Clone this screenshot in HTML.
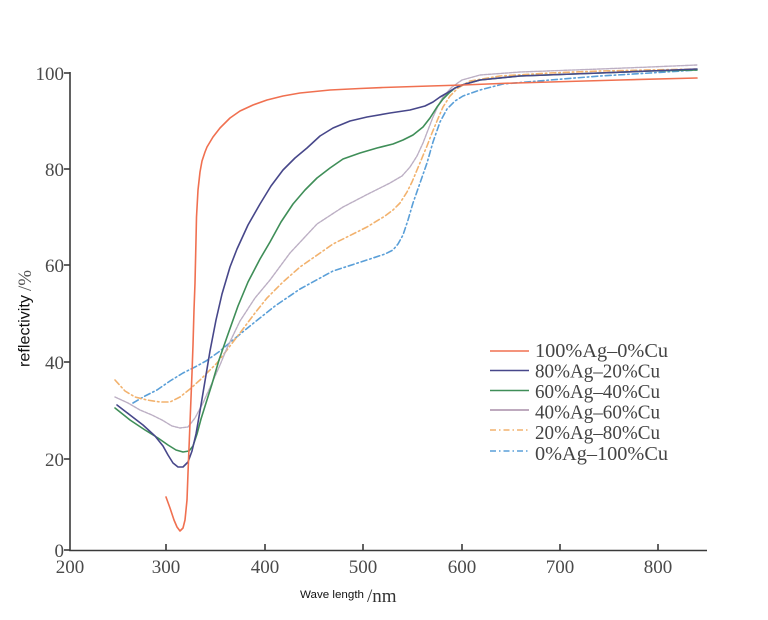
<!DOCTYPE html>
<html>
<head>
<meta charset="utf-8">
<style>
  html, body { margin: 0; padding: 0; background: #ffffff; }
  svg { display: block; }
</style>
</head>
<body>
<svg width="768" height="620" viewBox="0 0 768 620" xmlns="http://www.w3.org/2000/svg">
  <rect width="768" height="620" fill="#ffffff"/>

  <!-- axes -->
  <g stroke="#3a3a3a" stroke-width="1.6" fill="none">
    <line x1="70" y1="72" x2="70" y2="551"/>
    <line x1="69.2" y1="550.5" x2="707" y2="550.5"/>
    <!-- y ticks -->
    <line x1="64" y1="73" x2="70" y2="73"/>
    <line x1="64" y1="169" x2="70" y2="169"/>
    <line x1="64" y1="265" x2="70" y2="265"/>
    <line x1="64" y1="362" x2="70" y2="362"/>
    <line x1="64" y1="459" x2="70" y2="459"/>
    <line x1="64" y1="550" x2="70" y2="550"/>
    <!-- x ticks -->
    <line x1="166" y1="544" x2="166" y2="550"/>
    <line x1="265" y1="544" x2="265" y2="550"/>
    <line x1="363" y1="544" x2="363" y2="550"/>
    <line x1="462" y1="544" x2="462" y2="550"/>
    <line x1="560" y1="544" x2="560" y2="550"/>
    <line x1="658" y1="544" x2="658" y2="550"/>
  </g>

  <!-- tick labels -->
  <g font-family="Liberation Serif, serif" font-size="19" fill="#4a4a4a">
    <text x="64" y="80" text-anchor="end">100</text>
    <text x="64" y="176" text-anchor="end">80</text>
    <text x="64" y="272" text-anchor="end">60</text>
    <text x="64" y="369" text-anchor="end">40</text>
    <text x="64" y="466" text-anchor="end">20</text>
    <text x="64" y="557" text-anchor="end">0</text>
    <text x="70" y="573" text-anchor="middle">200</text>
    <text x="166" y="573" text-anchor="middle">300</text>
    <text x="265" y="573" text-anchor="middle">400</text>
    <text x="363" y="573" text-anchor="middle">500</text>
    <text x="462" y="573" text-anchor="middle">600</text>
    <text x="560" y="573" text-anchor="middle">700</text>
    <text x="658" y="573" text-anchor="middle">800</text>
  </g>

  <!-- axis titles -->
  <g transform="translate(29.5,367) rotate(-90)">
    <text x="0" y="0" font-family="Liberation Sans, sans-serif" font-size="16" fill="#111" textLength="72" lengthAdjust="spacingAndGlyphs">reflectivity</text>
    <text x="76" y="1.5" font-family="Liberation Serif, serif" font-size="19" fill="#555">/%</text>
  </g>
  <text x="300" y="598" font-family="Liberation Sans, sans-serif" font-size="11" fill="#111" textLength="64" lengthAdjust="spacingAndGlyphs">Wave length</text>
  <text x="367" y="602" font-family="Liberation Serif, serif" font-size="19" fill="#333">/nm</text>

  <!-- series -->
  <g fill="none" stroke-width="1.6" stroke-linejoin="round" stroke-linecap="round">
    <!-- 0%Ag-100%Cu -->
    <polyline stroke="#5a9fd8" stroke-dasharray="6 3 1.5 3"
      points="133,403 145,396 157,390 170,381 183,373 195,367 206,361 220,351 233,340 250,326 275,306 300,289 333,271 367,260 385,254 393,250 398,244 403,235 408,220 413,203 420,183 427,163 433,142 440,122 447,109 455,101 463,96 480,90 503,84 550,80 600,76 650,73 697,70"/>
    <!-- 20%Ag-80%Cu -->
    <polyline stroke="#f2b26e" stroke-dasharray="6 3 1.5 3"
      points="115,380 125,391 135,397 147,400 160,402 170,402 180,397 190,389 200,380 217,363 230,346 243,329 255,313 267,298 283,282 300,267 333,244 367,227 385,216 393,210 400,203 407,192 412,182 417,170 422,158 427,146 432,133 437,121 443,107 450,96 458,88 470,81 500,76 550,73 600,71 697,69"/>
    <!-- 40%Ag-60%Cu -->
    <polyline stroke="#bcafc4" stroke-width="1.4" stroke-dasharray="3 1.2"
      points="115,397 128,403 140,410 152,415 162,420 172,426 180,428 188,427 195,418 203,403 212,383 220,365 227,348 240,321 255,298 270,280 290,253 317,224 343,207 370,193 390,183 402,176 410,167 417,156 423,143 428,130 433,117 438,106 443,97 452,87 462,80 480,75 520,72 600,69 650,67 697,65"/>
    <!-- 60%Ag-40%Cu -->
    <polyline stroke="#3f8e58"
      points="115,408 130,420 145,430 158,438 168,445 176,450 183,452 189,451 193,446 197,434 201,419 206,403 212,384 219,360 227,337 238,306 248,282 260,259 270,242 281,222 293,204 305,190 317,178 330,168 343,159 360,153 377,148 393,144 403,140 413,135 423,127 430,118 437,107 443,99 449,93 455,88 462,85 480,80 520,76 600,73 650,71 697,70"/>
    <!-- 80%Ag-20%Cu -->
    <polyline stroke="#47478a"
      points="117,405 130,415 143,425 155,436 163,446 168,455 173,463 178,467 183,467 188,462 192,451 196,434 200,411 205,381 210,351 216,320 222,294 230,267 237,249 248,225 260,204 271,186 283,170 295,158 307,148 320,136 333,128 350,121 367,117 390,113 410,110 425,106 433,102 440,97 447,93 455,88 462,85 480,80 520,76 600,73 650,71 697,69"/>
    <!-- 100%Ag-0%Cu -->
    <polyline stroke="#f07050"
      points="166,497 170,508 174,520 177,527 180,531 183,528 185,520 187,500 188,473 190,423 192,373 193,345 194,310 195,283 196,240 196.5,217 198,190 200,172 202,161 205,152 207,147 213,137 220,128 230,118 240,111 253,105 267,100 283,96 300,93 330,90 360,88.5 383,87.5 430,86 463,85 500,83.5 550,82 620,80 697,78"/>
  </g>

  <!-- legend -->
  <g stroke-width="1.6" fill="none">
    <line x1="490" y1="351" x2="529" y2="351" stroke="#f07050"/>
    <line x1="490" y1="370.5" x2="529" y2="370.5" stroke="#47478a"/>
    <line x1="490" y1="390.5" x2="529" y2="390.5" stroke="#3f8e58"/>
    <line x1="490" y1="410" x2="529" y2="410" stroke="#a98ea8"/>
    <line x1="490" y1="430" x2="529" y2="430" stroke="#f2b26e" stroke-dasharray="6 3 1.5 3"/>
    <line x1="490" y1="451" x2="529" y2="451" stroke="#5a9fd8" stroke-dasharray="6 3 1.5 3"/>
  </g>
  <g font-family="Liberation Serif, serif" font-size="20" fill="#444">
    <text x="535" y="357" textLength="133" lengthAdjust="spacingAndGlyphs">100%Ag–0%Cu</text>
    <text x="535" y="377.5" textLength="125" lengthAdjust="spacingAndGlyphs">80%Ag–20%Cu</text>
    <text x="535" y="398" textLength="125" lengthAdjust="spacingAndGlyphs">60%Ag–40%Cu</text>
    <text x="535" y="418.5" textLength="125" lengthAdjust="spacingAndGlyphs">40%Ag–60%Cu</text>
    <text x="535" y="439" textLength="125" lengthAdjust="spacingAndGlyphs">20%Ag–80%Cu</text>
    <text x="535" y="460" textLength="133" lengthAdjust="spacingAndGlyphs">0%Ag–100%Cu</text>
  </g>
</svg>
</body>
</html>
